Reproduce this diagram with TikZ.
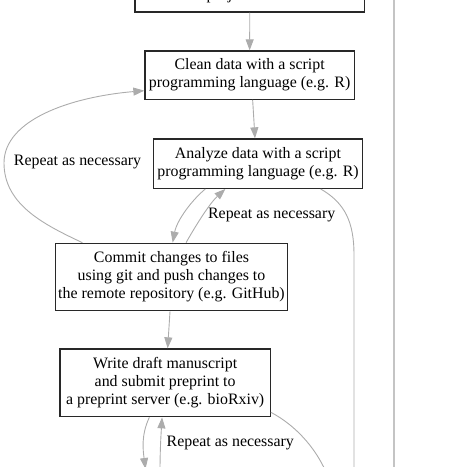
\documentclass[tikz,border=0pt]{standalone}
\usepackage{fontspec}
\setmainfont{Liberation Serif}
\usetikzlibrary{arrows.meta,calc}
\definecolor{edgecol}{RGB}{172,172,172}
\definecolor{vcol}{RGB}{196,196,196}
\definecolor{boxcol}{RGB}{40,40,40}
\tikzset{
  box/.style={draw=boxcol, line width=1.3pt, rectangle, inner sep=0pt, align=center,
    font=\fontsize{15.9}{18}\selectfont},
  lbl/.style={inner sep=0pt, font=\fontsize{15.9}{18}\selectfont},
  edge/.style={draw=edgecol, line width=0.9pt},
  arr/.style={edge, -{Triangle[length=11pt,width=8pt]}},
  vline/.style={draw=vcol, line width=1.6pt},
}
\begin{document}
\begin{tikzpicture}[x=1pt,y=-1pt]
\useasboundingbox (0,0) rectangle (467,467);
\clip (0,0) rectangle (467,467);
% nodes
\node[box, minimum width=229.5pt, minimum height=52pt] (top) at (249.75,-14) {};
\node[lbl, anchor=base] (toptxt) at (249.75,-0.3) {project folder};
\node[box, minimum width=209.3pt, minimum height=48.3pt] (clean) at (249.65,75.15)
  {Clean data with a script\\programming language (e.g. R)};
\node[box, minimum width=209.4pt, minimum height=49.3pt] (analyze) at (258,163.65)
  {Analyze data with a script\\programming language (e.g. R)};
\node[box, minimum width=232.4pt, minimum height=67.4pt] (commit) at (171.5,277)
  {Commit changes to files\\using git and push changes to\\the remote repository (e.g. GitHub)};
\node[box, minimum width=210.3pt, minimum height=67.7pt] (write) at (165.15,382.85)
  {Write draft manuscript\\and submit preprint to\\a preprint server (e.g. bioRxiv)};
% labels
\node[lbl] (l1) at (77.5,162.5) {Repeat as necessary};
\node[lbl] (l2) at (271.7,215) {Repeat as necessary};
\node[lbl] (l3) at (230.3,443.3) {Repeat as necessary};
% free ends
\coordinate (vt) at (394,0);
\coordinate (vb) at (394,467);
\coordinate (ab) at (354,470);
\coordinate (wb1) at (145.5,469);
\coordinate (wb2) at (160,472);
\coordinate (we) at (326,472);
% connectors
\draw[vline] (vt) -- (vb);
\draw[arr] (top.south) -- (clean.north);
\draw[arr] ($(clean.south)+(3,0)$) -- ($(analyze.north)+(-3,0)$);
\draw[arr] ($(commit.north west)+(27.7,0)$) .. controls (45,225) and (4,205) .. (4,163)
  .. controls (4,120) and (70,97) .. ($(clean.west)+(0,15.5)$);
\draw[arr] ($(analyze.south west)+(52.7,0)$) .. controls (192,200) and (177,220) .. ($(commit.north west)+(118,0)$);
\draw[arr] ($(commit.north west)+(131.4,0)$) .. controls (196,225) and (210,203) .. ($(analyze.south west)+(72.7,0)$);
\draw[arr] ($(commit.south)+(-1.5,0)$) -- ($(write.north)+(2.5,0)$);
\draw[arr] ($(write.south west)+(90,0)$) .. controls (141,435) and (143,450) .. (wb1);
\draw[arr] (wb2) .. controls (160,450) and (161,435) .. ($(write.south west)+(102.7,0)$);
\draw[edge] ($(write.south east)+(0,-5)$) .. controls (295,425) and (315,447) .. (we);
\draw[edge] ($(analyze.south east)+(-42.7,0)$) .. controls (345,203) and (354,222) .. (354,255) -- (ab);
\end{tikzpicture}
\end{document}
